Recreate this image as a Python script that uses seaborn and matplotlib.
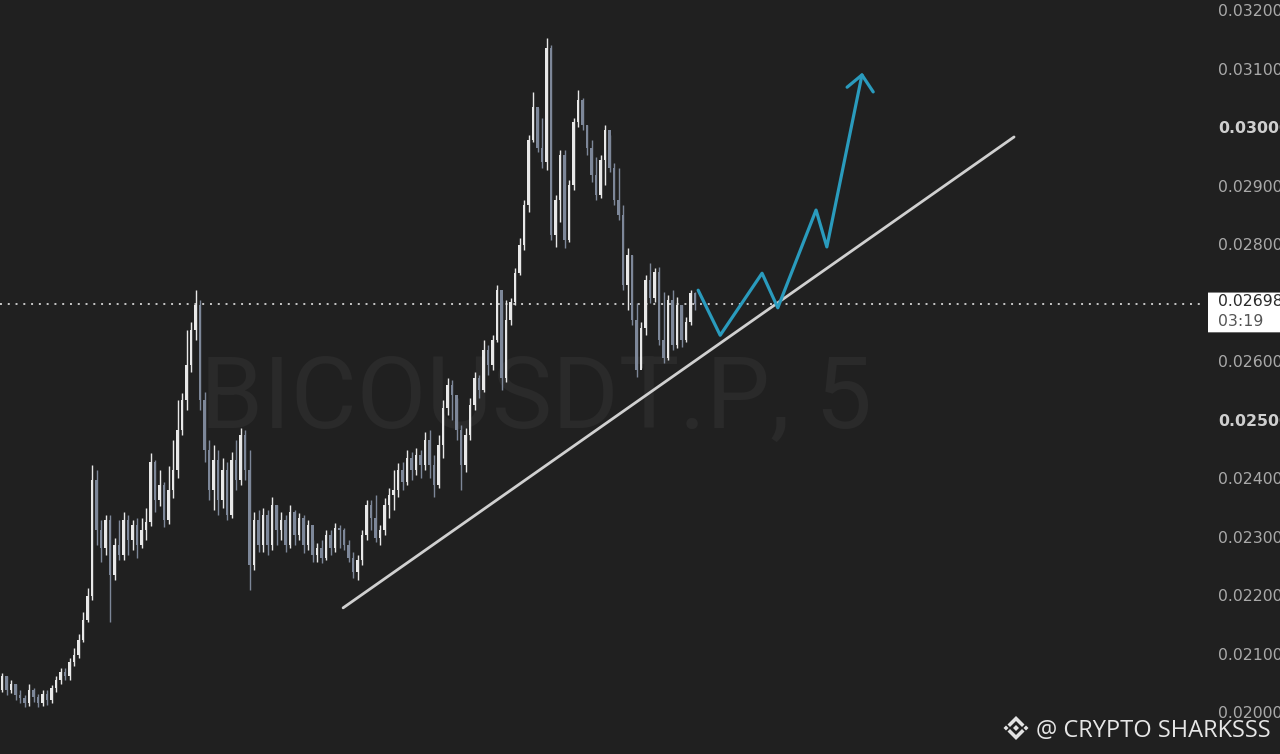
import numpy as np
import pandas as pd
import matplotlib
matplotlib.use("Agg")
import matplotlib.pyplot as plt
import matplotlib.transforms as mtransforms
from matplotlib.patches import Polygon, FancyBboxPatch
import seaborn as sns

# ---------------- data ----------------
first_open = 0.02038
close = [0.02062, 0.02038, 0.02048, 0.02029, 0.02024, 0.02015, 0.02038, 0.02026, 0.02015, 0.02031,
         0.02021, 0.02041, 0.02055, 0.02068, 0.02062, 0.02085, 0.02097, 0.02123, 0.02157, 0.02198,
         0.02397, 0.02311, 0.02280, 0.02328, 0.02234, 0.02285, 0.02268, 0.02328, 0.02294, 0.02320,
         0.02285, 0.02311, 0.02325, 0.02427, 0.02362, 0.02388, 0.02328, 0.02379, 0.02414, 0.02482,
         0.02533, 0.02593, 0.02653, 0.02696, 0.02533, 0.02448, 0.02379, 0.02431, 0.02362, 0.02414,
         0.02337, 0.02431, 0.02397, 0.02473, 0.02414, 0.02251, 0.02328, 0.02285, 0.02337, 0.02285,
         0.02354, 0.02311, 0.02328, 0.02285, 0.02342, 0.02303, 0.02332, 0.02285, 0.02320, 0.02268,
         0.02280, 0.02263, 0.02303, 0.02280, 0.02315, 0.02311, 0.02285, 0.02263, 0.02239, 0.02260,
         0.02303, 0.02354, 0.02332, 0.02297, 0.02311, 0.02354, 0.02371, 0.02379, 0.02414, 0.02393,
         0.02434, 0.02414, 0.02439, 0.02422, 0.02465, 0.02422, 0.02388, 0.02456, 0.02520, 0.02559,
         0.02542, 0.02482, 0.02422, 0.02473, 0.02525, 0.02571, 0.02550, 0.02619, 0.02593, 0.02636,
         0.02721, 0.02571, 0.02670, 0.02701, 0.02750, 0.02798, 0.02867, 0.02978, 0.03034, 0.02964,
         0.02940, 0.03135, 0.02815, 0.02875, 0.02952, 0.02807, 0.02901, 0.03009, 0.03046, 0.03003,
         0.02964, 0.02918, 0.02884, 0.02944, 0.02995, 0.02930, 0.02875, 0.02850, 0.02730, 0.02781,
         0.02670, 0.02585, 0.02656, 0.02738, 0.02708, 0.02752, 0.02636, 0.02605, 0.02704, 0.02627,
         0.02696, 0.02636, 0.02667, 0.02716, 0.02698]
high = [0.02067, 0.02062, 0.02055, 0.02048, 0.02038, 0.02029, 0.02048, 0.02041, 0.02031, 0.02038,
        0.02038, 0.02046, 0.02062, 0.02075, 0.02075, 0.02092, 0.02109, 0.02133, 0.02171, 0.02212,
        0.02422, 0.02414, 0.02328, 0.02337, 0.02337, 0.02297, 0.02328, 0.02342, 0.02337, 0.02328,
        0.02332, 0.02332, 0.02349, 0.02443, 0.02431, 0.02414, 0.02393, 0.02421, 0.02465, 0.02533,
        0.02545, 0.02653, 0.02667, 0.02721, 0.02704, 0.02547, 0.02465, 0.02456, 0.02448, 0.02434,
        0.02427, 0.02444, 0.02465, 0.02485, 0.02482, 0.02448, 0.02342, 0.02345, 0.02349, 0.02345,
        0.02368, 0.02354, 0.02342, 0.02337, 0.02354, 0.02345, 0.02340, 0.02337, 0.02328, 0.02294,
        0.02289, 0.02294, 0.02311, 0.02311, 0.02323, 0.02320, 0.02315, 0.02294, 0.02274, 0.02268,
        0.02311, 0.02362, 0.02362, 0.02371, 0.02320, 0.02366, 0.02383, 0.02414, 0.02426, 0.02427,
        0.02448, 0.02444, 0.02451, 0.02448, 0.02479, 0.02482, 0.02439, 0.02473, 0.02533, 0.02571,
        0.02568, 0.02537, 0.02491, 0.02485, 0.02537, 0.02581, 0.02576, 0.02636, 0.02627, 0.02644,
        0.02730, 0.02704, 0.02704, 0.02708, 0.02759, 0.02810, 0.02875, 0.02986, 0.03060, 0.03032,
        0.03015, 0.03152, 0.03140, 0.02884, 0.02961, 0.02961, 0.02909, 0.03015, 0.03063, 0.03050,
        0.03003, 0.02978, 0.02949, 0.02952, 0.03003, 0.02986, 0.02938, 0.02930, 0.02867, 0.02793,
        0.02781, 0.02699, 0.02667, 0.02747, 0.02768, 0.02759, 0.02761, 0.02718, 0.02713, 0.02721,
        0.02709, 0.02696, 0.02675, 0.02721, 0.02718]
low = [0.02034, 0.02029, 0.02032, 0.02021, 0.02015, 0.02009, 0.02010, 0.02017, 0.02009, 0.02010,
       0.02012, 0.02015, 0.02034, 0.02048, 0.02055, 0.02055, 0.02079, 0.02092, 0.02120, 0.02154,
       0.02191, 0.02285, 0.02256, 0.02268, 0.02154, 0.02226, 0.02260, 0.02260, 0.02268, 0.02277,
       0.02263, 0.02280, 0.02294, 0.02318, 0.02342, 0.02352, 0.02316, 0.02321, 0.02366, 0.02400,
       0.02473, 0.02516, 0.02581, 0.02636, 0.02516, 0.02427, 0.02362, 0.02345, 0.02337, 0.02349,
       0.02328, 0.02332, 0.02379, 0.02388, 0.02397, 0.02209, 0.02243, 0.02274, 0.02274, 0.02268,
       0.02277, 0.02285, 0.02294, 0.02274, 0.02280, 0.02285, 0.02294, 0.02272, 0.02277, 0.02256,
       0.02256, 0.02255, 0.02260, 0.02268, 0.02274, 0.02280, 0.02277, 0.02256, 0.02229, 0.02226,
       0.02251, 0.02294, 0.02311, 0.02291, 0.02285, 0.02303, 0.02332, 0.02345, 0.02368, 0.02379,
       0.02388, 0.02397, 0.02405, 0.02400, 0.02414, 0.02400, 0.02368, 0.02383, 0.02434, 0.02508,
       0.02499, 0.02465, 0.02379, 0.02410, 0.02465, 0.02516, 0.02537, 0.02547, 0.02576, 0.02585,
       0.02632, 0.02550, 0.02564, 0.02662, 0.02696, 0.02747, 0.02790, 0.02855, 0.02974, 0.02957,
       0.02930, 0.02926, 0.02807, 0.02795, 0.02838, 0.02793, 0.02803, 0.02892, 0.03000, 0.02995,
       0.02952, 0.02906, 0.02875, 0.02879, 0.02901, 0.02923, 0.02867, 0.02841, 0.02721, 0.02687,
       0.02662, 0.02573, 0.02588, 0.02644, 0.02699, 0.02701, 0.02627, 0.02597, 0.02602, 0.02619,
       0.02622, 0.02624, 0.02632, 0.02662, 0.02687]

last_price = 0.02698
countdown = "03:19"
symbol = "BICOUSDT.P, 5"
credit = "@ CRYPTO SHARKSSS"

ytick_values = [0.020, 0.021, 0.022, 0.023, 0.024, 0.025, 0.026, 0.028, 0.029, 0.030, 0.031, 0.032]
ytick_labels = ["0.02000", "0.02100", "0.02200", "0.02300", "0.02400", "0.02500", "0.02600",
                "0.02800", "0.02900", "0.03000", "0.03100", "0.03200"]
bold_labels = ["0.02500", "0.03000"]

# drawn trend line (bar index, price)
trend_x = [75.8, 224.9]
trend_y = [0.02178, 0.02983]
# projected path (bar index, price)
path_x = [154.7, 159.6, 168.9, 172.4, 180.9, 183.3, 191.1]
path_y = [0.02721, 0.02644, 0.02750, 0.02691, 0.02858, 0.02795, 0.03089]
head_x = [187.8, 191.1, 193.6]
head_y = [0.03068, 0.03089, 0.03060]

# ---------------- style ----------------
BG = "#202020"
UP = "#e8e8e8"
DOWN = "#7d8799"
sns.set_theme(style="dark", rc={"axes.facecolor": BG, "figure.facecolor": BG})
plt.rcParams["font.family"] = ["DejaVu Sans"]

W, H = 1280, 754
fig = plt.figure(figsize=(W / 100, H / 100), dpi=100)
ax = fig.add_axes([0, 0, 1, 1])
ax.set_facecolor(BG)
for s in ax.spines.values():
    s.set_visible(False)

df = pd.DataFrame({"close": close, "high": high, "low": low})
df["open"] = [first_open] + close[:-1]
df["idx"] = np.arange(len(df))
df["up"] = df["close"] >= df["open"]

# pixel transform for layout items
px = mtransforms.Affine2D().scale(1 / W, -1 / H).translate(0, 1) + ax.transAxes

# watermark
ax.text(200, 428, symbol, transform=px, fontsize=73, family="Roboto", color="#2a2a2a",
        ha="left", va="baseline", zorder=0)

# candles
for up, col in [(True, UP), (False, DOWN)]:
    d = df[df["up"] == up]
    ax.vlines(d["idx"], d["low"], d["high"], color=col, lw=1.0, zorder=3)
    body = (d["close"] - d["open"]).abs().clip(lower=0.00002)
    ax.bar(d["idx"], body, bottom=np.minimum(d["open"], d["close"]), width=0.5,
           color=col, edgecolor="none", zorder=3)

# dotted last price line
ax.axhline(last_price, xmin=0, xmax=1205 / W, color="#c8c8c8", lw=1.4,
           linestyle=(0, (1, 3)), zorder=2)

# trend line and projection
sns.lineplot(x=trend_x, y=trend_y, ax=ax, color="#d0d0d0", lw=2.0, zorder=4, sort=False)
sns.lineplot(x=path_x, y=path_y, ax=ax, color="#2a9bbd", lw=2.3, zorder=5, sort=False)
sns.lineplot(x=head_x, y=head_y, ax=ax, color="#2a9bbd", lw=2.3, zorder=5, sort=False)

ax.set_xlim(-2 / 4.5, (W - 2) / 4.5)
ax.set_ylim(0.020 - 42 / 58500, 0.020 + 712 / 58500)

# price scale
ax.set_xticks([])
ax.yaxis.tick_right()
ax.set_yticks(ytick_values)
ax.set_yticklabels(ytick_labels)
ax.tick_params(axis="y", length=0, pad=-44.6, labelsize=11.3, labelcolor="#a9a9a9")
for t in ax.get_yticklabels():
    if t.get_text() in bold_labels:
        t.set_fontweight("bold")
        t.set_color("#cfcfcf")

# last price label box
bt = mtransforms.blended_transform_factory(ax.transAxes, ax.transData)
ax.add_patch(FancyBboxPatch((1208 / W, last_price - 0.00049), 0.06, 0.00068, transform=bt,
                            boxstyle="round,pad=0,rounding_size=0.002",
                            mutation_aspect=0.0002,
                            facecolor="#ffffff", edgecolor="none", zorder=6, clip_on=False))
ax.text(1218 / W, last_price + 0.00003, f"{last_price:.5f}", transform=bt, fontsize=11.3,
        color="#2a2a2a", ha="left", va="center", zorder=7)
ax.text(1218 / W, last_price - 0.00031, countdown, transform=bt, fontsize=11.3,
        color="#555555", ha="left", va="center", zorder=7)

# logo + credit
cx, cy = 1016, 728
shapes = [
    [(-8.5, 3.5), (0, 12), (8.5, 3.5), (6, 1), (0, 7), (-6, 1)],
    [(-8.5, -3.5), (0, -12), (8.5, -3.5), (6, -1), (0, -7), (-6, -1)],
    [(0, 3), (3, 0), (0, -3), (-3, 0)],
    [(-10, 2.5), (-7.5, 0), (-10, -2.5), (-12.5, 0)],
    [(10, 2.5), (12.5, 0), (10, -2.5), (7.5, 0)],
]
for sh in shapes:
    pts = [(cx + a, cy - b) for a, b in sh]
    ax.add_patch(Polygon(pts, closed=True, transform=px, facecolor="#e2e2e2",
                         edgecolor="none", zorder=8))
ax.text(1036, 737, credit, transform=px, fontsize=17, family="Open Sans", color="#e6e6e6",
        ha="left", va="baseline", zorder=8)

fig.savefig("out.png", dpi=100, facecolor=BG)
